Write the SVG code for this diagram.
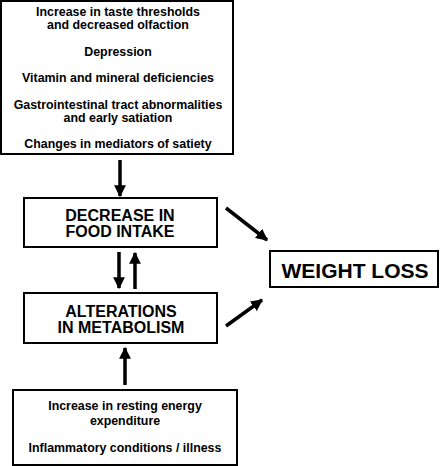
<svg xmlns="http://www.w3.org/2000/svg" width="440" height="466" viewBox="0 0 440 466">
<style>
.box{fill:#fff;stroke:#000;stroke-width:2}
.s{font-family:"Liberation Sans",Arial,sans-serif;font-weight:bold;font-size:12.4px;text-anchor:middle;fill:#000}
.m{font-family:"Liberation Sans",Arial,sans-serif;font-weight:bold;font-size:16px;text-anchor:middle;fill:#000}
.l{font-family:"Liberation Sans",Arial,sans-serif;font-weight:bold;font-size:21px;text-anchor:middle;fill:#000}
.c{stroke:#000;stroke-width:3.5;fill:none;marker-end:url(#ah)}
</style>
<defs>
<marker id="ah" viewBox="0 0 10 10" refX="9" refY="5" markerWidth="3.4" markerHeight="3.4" orient="auto" markerUnits="strokeWidth">
<path d="M0,0 L10,5 L0,10 Z" fill="#000"/>
</marker>
</defs>
<g id="connectors">
<line class="c" x1="120" y1="160" x2="120" y2="196"/>
<line class="c" x1="119" y1="252" x2="119" y2="288"/>
<line class="c" x1="135" y1="289" x2="135" y2="253"/>
<line class="c" x1="125" y1="385" x2="125" y2="348"/>
<line class="c" x1="226" y1="208" x2="267" y2="240"/>
<line class="c" x1="226" y1="326" x2="262" y2="300"/>
</g>
<g id="causes">
<rect class="box" x="1" y="1" width="232" height="153"/>
<text class="s" x="118" y="16">Increase in taste thresholds</text>
<text class="s" x="118" y="29">and decreased olfaction</text>
<text class="s" x="118" y="56">Depression</text>
<text class="s" x="118" y="82">Vitamin and mineral deficiencies</text>
<text class="s" x="118" y="109">Gastrointestinal tract abnormalities</text>
<text class="s" x="118" y="122">and early satiation</text>
<text class="s" x="118" y="148">Changes in mediators of satiety</text>
</g>
<g id="food">
<rect class="box" x="24" y="198" width="193" height="49"/>
<text class="m" x="120" y="221">DECREASE IN</text>
<text class="m" x="120" y="237">FOOD INTAKE</text>
</g>
<g id="metabolism">
<rect class="box" x="24" y="293" width="193" height="50"/>
<text class="m" x="121" y="317">ALTERATIONS</text>
<text class="m" x="121" y="333">IN METABOLISM</text>
</g>
<g id="weightloss">
<rect class="box" x="270" y="251" width="168" height="36"/>
<text class="l" x="355" y="278">WEIGHT LOSS</text>
</g>
<g id="energy">
<rect class="box" x="13" y="390" width="224" height="75"/>
<text class="s" x="125" y="410">Increase in resting energy</text>
<text class="s" x="125" y="425">expenditure</text>
<text class="s" x="125" y="452">Inflammatory conditions / illness</text>
</g>
</svg>
